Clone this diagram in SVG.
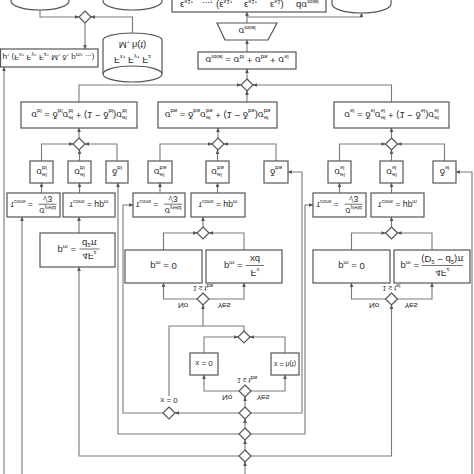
<svg xmlns="http://www.w3.org/2000/svg" width="474" height="474" viewBox="0 0 474 474">
<defs>
<marker id="ah" viewBox="0 0 6 6" refX="5.5" refY="3" markerWidth="4" markerHeight="4" orient="auto"><path d="M0,0.5 L6,3 L0,5.5 z" fill="#555"/></marker>
<style>
.b{fill:#fff;stroke:#555;stroke-width:1.2}
.l path{fill:none;stroke:#7a7a7a;stroke-width:1.1}
.a{marker-end:url(#ah)}
text{font-family:"Liberation Sans",Arial,sans-serif;fill:#2a2a2a}
.c{text-anchor:middle}
.e{text-anchor:end}
.f9{font-size:9.5px}.f85{font-size:8.5px}.f8{font-size:8px}.f7{font-size:7px}
.s{font-size:6px}.s5{font-size:5.5px}
.fr{stroke:#333;stroke-width:0.7}
</style>
</defs>
<rect width="474" height="474" fill="#fff"/>

<g id="connectors" class="l">
<path class="a" d="M40,10 V17 H79"/>
<path class="a" d="M132.5,33 V17 H91"/>
<path class="a" d="M85,23 V49"/>
<path class="a" d="M247,23 V12"/>
<path class="a" d="M247,17 H361.5 V13"/>
<path class="a" d="M247,52 V40"/>
<path class="a" d="M247,79 V69"/>
<path class="a" d="M79,102 V85 H241"/>
<path class="a" d="M391.5,102 V85 H253"/>
<path class="a" d="M247,102 V91"/>
<path class="a" d="M79,138 V128"/>
<path class="a" d="M41.5,161 V144 H73"/>
<path class="a" d="M79.5,161 V150"/>
<path class="a" d="M117,161 V144 H85"/>
<path class="a" d="M218,138 V128"/>
<path class="a" d="M160,161 V144 H212"/>
<path class="a" d="M217.5,161 V150"/>
<path class="a" d="M276,161 V144 H224"/>
<path class="a" d="M391.5,138 V128"/>
<path class="a" d="M339.5,161 V144 H385.5"/>
<path class="a" d="M391.5,161 V150"/>
<path class="a" d="M444.5,161 V144 H397.5"/>
<path class="a" d="M41.5,193 V183"/>
<path class="a" d="M79.5,193 V183"/>
<path class="a" d="M160,193 V183"/>
<path class="a" d="M217.5,193 V183"/>
<path class="a" d="M339.5,193 V183"/>
<path class="a" d="M391.5,193 V183"/>
<path class="a" d="M79,233 V217"/>
<path class="a" d="M203,227 V217"/>
<path class="a" d="M391.5,227 V217"/>
<path class="a" d="M163.5,250 V233 H197"/>
<path class="a" d="M244,250 V233 H209"/>
<path class="a" d="M351.5,250 V233 H385.5"/>
<path class="a" d="M432,250 V233 H397.5"/>
<path class="a" d="M197,299 H163.5 V283"/>
<path class="a" d="M209,299 H244 V283"/>
<path class="a" d="M385.5,299 H351.5 V283"/>
<path class="a" d="M397.5,299 H432 V283"/>
<path class="a" d="M245,474 V462"/>
<path class="a" d="M245,450 V440"/>
<path class="a" d="M245,428 V419"/>
<path class="a" d="M245,407 V397"/>
<path class="a" d="M239,456 H79 V267"/>
<path class="a" d="M251,456 H391.5 V305"/>
<path class="a" d="M239,434 H118 V183"/>
<path class="a" d="M251,434 H305 V205 H313"/>
<path class="a" d="M239,413 H175"/>
<path class="a" d="M163,413 H123 V205 H133"/>
<path class="a" d="M251,413 H302 V172 H288"/>
<path class="a" d="M239,391 H204 V375"/>
<path class="a" d="M251,391 H285 V375"/>
<path class="a" d="M204,353 V337 H238"/>
<path class="a" d="M285,353 V337 H250"/>
<path class="a" d="M244,331 V326 H203 V305"/>
<path d="M169,396 V326 H203"/>
<path class="a" d="M22,474 V217"/>
<path class="a" d="M4,474 V67"/>
<path class="a" d="M472,474 V172 H456"/>
</g>

<g id="cylA"><path class="b" d="M11,-20 V1 A29,9 0 0 0 69,1 V-20 Z"/></g>
<g id="cylB"><path class="b" d="M103,-20 V1 A29.5,9 0 0 0 162,1 V-20 Z"/></g>
<g id="cylC"><path class="b" d="M332,-20 V4 A29.5,9 0 0 0 391,4 V-20 Z"/></g>

<g id="outBox">
<rect class="b" x="172" y="-5" width="154" height="17"/>
<g transform="translate(249,5) scale(1,-1)"><text class="f9" y="3.3"><tspan x="-69">ε</tspan><tspan class="s" dy="2">s1</tspan><tspan dy="-2">,</tspan><tspan x="-47">...,</tspan><tspan x="-33">(ε</tspan><tspan class="s" dy="2">s1</tspan><tspan dy="-2">,</tspan><tspan x="-5">ε</tspan><tspan class="s" dy="2">s1</tspan><tspan dy="-2">,</tspan><tspan x="21">ε</tspan><tspan class="s" dy="2">s1</tspan><tspan dy="-2">)</tspan><tspan x="47">dσ</tspan><tspan class="s" dy="2">total</tspan></text></g>
</g>

<g id="join0"><polygon class="b" points="85,11 91,17 85,23 79,17"/></g>

<g id="inputBox">
<rect class="b" x="0.5" y="49" width="97.5" height="18"/>
<g transform="translate(2.5,58) scale(1,-1)"><text class="f8" y="2.8">μ, (F<tspan class="s" dy="2">x</tspan><tspan dy="-2">, F</tspan><tspan class="s" dy="2">y</tspan><tspan dy="-2">, F</tspan><tspan class="s" dy="2">z</tspan><tspan dy="-2">, M, δ, p</tspan><tspan class="s" dy="2">m</tspan><tspan dy="-2">, ...)</tspan></text></g>
</g>

<g id="cylMh">
<path class="b" d="M103,40 A29.5,7 0 0 1 162,40 V74 A29.5,8 0 0 1 103,74 Z"/>
<path class="b" d="M103,74 A29.5,8 0 0 1 162,74"/>
<g transform="translate(132.5,52.5) scale(1,-1)">
<text class="f9 c" y="-4.4">F<tspan class="s" dy="2">x</tspan><tspan dy="-2">, F</tspan><tspan class="s" dy="2">y</tspan><tspan dy="-2">, F</tspan><tspan class="s" dy="2">z</tspan></text>
<text class="f9 c" y="10.6">M, h(t)</text>
</g>
</g>

<g id="trap">
<polygon class="b" points="217,23 277,23 268,40 225,40"/>
<g transform="translate(247,31.5) scale(1,-1)"><text class="f9 c" y="3.3">σ<tspan class="s" dy="2">total</tspan></text></g>
</g>

<g id="totalBox">
<rect class="b" x="198" y="52" width="98" height="17"/>
<g transform="translate(247,60.5) scale(1,-1)"><text class="f9 c" y="3.3">σ<tspan class="s" dy="2">total</tspan><tspan dy="-2"> = σ</tspan><tspan class="s" dy="2">bl</tspan><tspan dy="-2"> + σ</tspan><tspan class="s" dy="2">ba</tspan><tspan dy="-2"> + σ</tspan><tspan class="s" dy="2">sl</tspan></text></g>
</g>

<g id="join1"><polygon class="b" points="247,79 253,85 247,91 241,85"/></g>

<g id="sigBl">
<rect class="b" x="21" y="102" width="116" height="26"/>
<g transform="translate(79,115) scale(1,-1)"><text class="f9 c" y="3.3">σ<tspan class="s" dy="2.5">bl</tspan><tspan dy="-2.5"> = δ</tspan><tspan class="s" dy="2.5">bl</tspan><tspan dy="-2.5">σ</tspan><tspan class="s" dy="2.5">bl</tspan><tspan class="s" dx="-4.7" dy="-7">el</tspan><tspan dy="4.5"> + (1 − δ</tspan><tspan class="s" dy="2.5">bl</tspan><tspan dy="-2.5">)σ</tspan><tspan class="s" dy="2.5">bl</tspan><tspan class="s" dx="-4.7" dy="-7">el</tspan></text></g>
</g>
<g id="sigBa">
<rect class="b" x="158" y="102" width="119" height="26"/>
<g transform="translate(217.5,115) scale(1,-1)"><text class="f9 c" y="3.3">σ<tspan class="s" dy="2.5">ba</tspan><tspan dy="-2.5"> = δ</tspan><tspan class="s" dy="2.5">ba</tspan><tspan dy="-2.5">σ</tspan><tspan class="s" dy="2.5">ba</tspan><tspan class="s" dx="-6.7" dy="-7">el</tspan><tspan dx="2" dy="4.5"> + (1 − δ</tspan><tspan class="s" dy="2.5">ba</tspan><tspan dy="-2.5">)σ</tspan><tspan class="s" dy="2.5">ba</tspan><tspan class="s" dx="-6.7" dy="-7">el</tspan></text></g>
</g>
<g id="sigSl">
<rect class="b" x="334" y="102" width="115" height="26"/>
<g transform="translate(391.5,115) scale(1,-1)"><text class="f9 c" y="3.3">σ<tspan class="s" dy="2.5">sl</tspan><tspan dy="-2.5"> = δ</tspan><tspan class="s" dy="2.5">sl</tspan><tspan dy="-2.5">σ</tspan><tspan class="s" dy="2.5">sl</tspan><tspan class="s" dx="-4.3" dy="-7">el</tspan><tspan dy="4.5"> + (1 − δ</tspan><tspan class="s" dy="2.5">sl</tspan><tspan dy="-2.5">)σ</tspan><tspan class="s" dy="2.5">sl</tspan><tspan class="s" dx="-4.3" dy="-7">el</tspan></text></g>
</g>

<g id="joinBl"><polygon class="b" points="79,138 85,144 79,150 73,144"/></g>
<g id="joinBa"><polygon class="b" points="218,138 224,144 218,150 212,144"/></g>
<g id="joinSl"><polygon class="b" points="391.5,138 397.5,144 391.5,150 385.5,144"/></g>

<g id="elBl1"><rect class="b" x="30" y="161" width="23" height="22"/><g transform="translate(41.5,172) scale(1,-1)"><text class="f9 c" y="3.3">σ<tspan class="s" dy="2.5">bl</tspan><tspan class="s" dx="-4.7" dy="-7">el</tspan></text></g></g>
<g id="elBl2"><rect class="b" x="68" y="161" width="23" height="22"/><g transform="translate(79.5,172) scale(1,-1)"><text class="f9 c" y="3.3">σ<tspan class="s" dy="2.5">bl</tspan><tspan class="s" dx="-4.7" dy="-7">el</tspan></text></g></g>
<g id="deltaBl"><rect class="b" x="106" y="161" width="22" height="22"/><g transform="translate(117,172) scale(1,-1)"><text class="f9 c" y="3.3">δ<tspan class="s" dy="2.5">bl</tspan></text></g></g>
<g id="elBa1"><rect class="b" x="148" y="161" width="24" height="22"/><g transform="translate(160,172) scale(1,-1)"><text class="f9 c" y="3.3">σ<tspan class="s" dy="2.5">ba</tspan><tspan class="s" dx="-6.7" dy="-7">el</tspan></text></g></g>
<g id="elBa2"><rect class="b" x="206" y="161" width="23" height="22"/><g transform="translate(217.5,172) scale(1,-1)"><text class="f9 c" y="3.3">σ<tspan class="s" dy="2.5">ba</tspan><tspan class="s" dx="-6.7" dy="-7">el</tspan></text></g></g>
<g id="deltaBa"><rect class="b" x="264" y="161" width="24" height="22"/><g transform="translate(276,172) scale(1,-1)"><text class="f9 c" y="3.3">δ<tspan class="s" dy="2.5">ba</tspan></text></g></g>
<g id="elSl1"><rect class="b" x="328" y="161" width="23" height="22"/><g transform="translate(339.5,172) scale(1,-1)"><text class="f9 c" y="3.3">σ<tspan class="s" dy="2.5">sl</tspan><tspan class="s" dx="-4.3" dy="-7">el</tspan></text></g></g>
<g id="elSl2"><rect class="b" x="380" y="161" width="23" height="22"/><g transform="translate(391.5,172) scale(1,-1)"><text class="f9 c" y="3.3">σ<tspan class="s" dy="2.5">sl</tspan><tspan class="s" dx="-4.3" dy="-7">el</tspan></text></g></g>
<g id="deltaSl"><rect class="b" x="433" y="161" width="23" height="22"/><g transform="translate(444.5,172) scale(1,-1)"><text class="f9 c" y="3.3">δ<tspan class="s" dy="2.5">sl</tspan></text></g></g>

<g id="tauYBl"><rect class="b" x="7" y="193" width="53" height="24"/>
<g transform="translate(33.5,205) scale(1,-1)"><text class="f85" x="-23" y="3">τ<tspan class="s5" dy="2">cons</tspan><tspan dy="-2"> =</tspan></text><text class="f85 c" x="14" y="-2.6">σ<tspan class="s5" dy="1.8">yield</tspan></text><line class="fr" x1="5" y1="0.8" x2="23" y2="0.8"/><text class="f85 c" x="14" y="9.3">√3</text></g></g>
<g id="tauMBl"><rect class="b" x="63" y="193" width="52" height="24"/>
<g transform="translate(89,205) scale(1,-1)"><text class="f85 c" y="3">τ<tspan class="s5" dy="2">cons</tspan><tspan dy="-2"> = μp</tspan><tspan class="s5" dy="2">m</tspan></text></g></g>
<g id="tauYBa"><rect class="b" x="133" y="193" width="52" height="24"/>
<g transform="translate(159,205) scale(1,-1)"><text class="f85" x="-23" y="3">τ<tspan class="s5" dy="2">cons</tspan><tspan dy="-2"> =</tspan></text><text class="f85 c" x="14" y="-2.6">σ<tspan class="s5" dy="1.8">yield</tspan></text><line class="fr" x1="5" y1="0.8" x2="23" y2="0.8"/><text class="f85 c" x="14" y="9.3">√3</text></g></g>
<g id="tauMBa"><rect class="b" x="191" y="193" width="54" height="24"/>
<g transform="translate(218,205) scale(1,-1)"><text class="f85 c" y="3">τ<tspan class="s5" dy="2">cons</tspan><tspan dy="-2"> = μp</tspan><tspan class="s5" dy="2">m</tspan></text></g></g>
<g id="tauYSl"><rect class="b" x="313" y="193" width="53" height="24"/>
<g transform="translate(339.5,205) scale(1,-1)"><text class="f85" x="-23" y="3">τ<tspan class="s5" dy="2">cons</tspan><tspan dy="-2"> =</tspan></text><text class="f85 c" x="14" y="-2.6">σ<tspan class="s5" dy="1.8">yield</tspan></text><line class="fr" x1="5" y1="0.8" x2="23" y2="0.8"/><text class="f85 c" x="14" y="9.3">√3</text></g></g>
<g id="tauMSl"><rect class="b" x="371" y="193" width="53" height="24"/>
<g transform="translate(397.5,205) scale(1,-1)"><text class="f85 c" y="3">τ<tspan class="s5" dy="2">cons</tspan><tspan dy="-2"> = μp</tspan><tspan class="s5" dy="2">m</tspan></text></g></g>

<g id="pmBl"><rect class="b" x="40" y="233" width="75" height="34"/>
<g transform="translate(77.5,250) scale(1,-1)"><text class="f9 e" x="-1.5" y="3.3">p<tspan class="s" dy="2">m</tspan><tspan dy="-2"> =</tspan></text><text class="f9 c" x="12" y="-3">4F<tspan class="s" dy="2">z</tspan></text><line class="fr" x1="2" y1="1" x2="22" y2="1"/><text class="f9 c" x="12" y="10.5">d<tspan class="s" dy="-3.5">2</tspan><tspan dy="3.5">π</tspan></text></g></g>

<g id="mergeBa"><polygon class="b" points="203,227 209,233 203,239 197,233"/></g>
<g id="pm0Ba"><rect class="b" x="125" y="250" width="77" height="33"/><g transform="translate(163.5,266.5) scale(1,-1)"><text class="f9 c" y="3.3">p<tspan class="s" dy="2">m</tspan><tspan dy="-2"> = 0</tspan></text></g></g>
<g id="pmBa"><rect class="b" x="206" y="250" width="76" height="33"/>
<g transform="translate(244,266.5) scale(1,-1)"><text class="f9 e" x="-1.5" y="3.3">p<tspan class="s" dy="2">m</tspan><tspan dy="-2"> =</tspan></text><text class="f9 c" x="11" y="-3">F<tspan class="s" dy="2">x</tspan></text><line class="fr" x1="2" y1="1" x2="20" y2="1"/><text class="f9 c" x="11" y="10.5">xd</text></g></g>
<g id="decBa"><polygon class="b" points="203,293 209,299 203,305 197,299"/>
<g transform="translate(203,288.5) scale(1,-1)"><text class="f7 c" y="2.5">1 ≤ t<tspan class="s" dy="2">ba</tspan></text></g>
<g transform="translate(183,306) scale(1,-1)"><text class="f8 c" y="2.8">No</text></g>
<g transform="translate(224,306) scale(1,-1)"><text class="f8 c" y="2.8">Yes</text></g>
</g>

<g id="mergeSl"><polygon class="b" points="391.5,227 397.5,233 391.5,239 385.5,233"/></g>
<g id="pm0Sl"><rect class="b" x="313" y="250" width="77" height="33"/><g transform="translate(351.5,266.5) scale(1,-1)"><text class="f9 c" y="3.3">p<tspan class="s" dy="2">m</tspan><tspan dy="-2"> = 0</tspan></text></g></g>
<g id="pmSl"><rect class="b" x="394" y="250" width="76" height="33"/>
<g transform="translate(432,266.5) scale(1,-1)"><text class="f9 e" x="-13" y="3.3">p<tspan class="s" dy="2">m</tspan><tspan dy="-2"> =</tspan></text><text class="f9 c" x="10.5" y="-3">4F<tspan class="s" dy="2">z</tspan></text><line class="fr" x1="-10" y1="1" x2="31" y2="1"/><text class="f9 c" x="10.5" y="10.5">(D<tspan class="s" dy="-3.5">2</tspan><tspan dy="3.5"> − d</tspan><tspan class="s" dy="-3.5">2</tspan><tspan dy="3.5">)π</tspan></text></g></g>
<g id="decSl"><polygon class="b" points="391.5,293 397.5,299 391.5,305 385.5,299"/>
<g transform="translate(391.5,288.5) scale(1,-1)"><text class="f7 c" y="2.5">1 ≤ t<tspan class="s" dy="2">sl</tspan></text></g>
<g transform="translate(374,306) scale(1,-1)"><text class="f8 c" y="2.8">No</text></g>
<g transform="translate(411,306) scale(1,-1)"><text class="f8 c" y="2.8">Yes</text></g>
</g>

<g id="mergeX"><polygon class="b" points="244,331 250,337 244,343 238,337"/></g>
<g id="xZero"><rect class="b" x="190" y="353" width="28" height="22"/><g transform="translate(204,364) scale(1,-1)"><text class="f8 c" y="2.8">x = 0</text></g></g>
<g id="xH"><rect class="b" x="271" y="353" width="28" height="22"/><g transform="translate(285,364) scale(1,-1)"><text class="f7 c" y="2.5">x = h(t)</text></g></g>
<g id="decX"><polygon class="b" points="245,385 251,391 245,397 239,391"/>
<g transform="translate(247,380) scale(1,-1)"><text class="f7 c" y="2.5">1 ≤ t<tspan class="s" dy="2">ba</tspan></text></g>
<g transform="translate(227,398) scale(1,-1)"><text class="f8 c" y="2.8">No</text></g>
<g transform="translate(263,398) scale(1,-1)"><text class="f8 c" y="2.8">Yes</text></g>
</g>
<g id="joinX0"><polygon class="b" points="169,407 175,413 169,419 163,413"/>
<g transform="translate(169,401) scale(1,-1)"><text class="f8 c" y="2.8">x = 0</text></g></g>
<g id="split3"><polygon class="b" points="245,407 251,413 245,419 239,413"/></g>
<g id="split2"><polygon class="b" points="245,428 251,434 245,440 239,434"/></g>
<g id="split1"><polygon class="b" points="245,450 251,456 245,462 239,456"/></g>
</svg>
